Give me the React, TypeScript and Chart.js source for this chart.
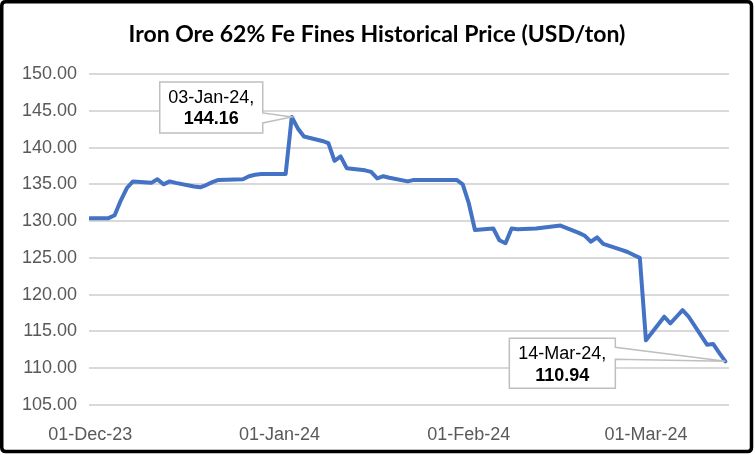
import React, { useEffect, useRef } from 'react';
import { Chart, registerables } from 'chart.js';

Chart.register(...registerables);

const TITLE = 'Iron Ore 62% Fe Fines Historical Price (USD/ton)';

const dates = [
  '2023-12-01', '2023-12-04', '2023-12-05', '2023-12-06', '2023-12-07', '2023-12-08',
  '2023-12-11', '2023-12-12', '2023-12-13', '2023-12-14', '2023-12-15',
  '2023-12-18', '2023-12-19', '2023-12-20', '2023-12-21', '2023-12-22',
  '2023-12-26', '2023-12-27', '2023-12-28', '2023-12-29',
  '2024-01-02', '2024-01-03', '2024-01-04', '2024-01-05',
  '2024-01-08', '2024-01-09', '2024-01-10', '2024-01-11', '2024-01-12',
  '2024-01-15', '2024-01-16', '2024-01-17', '2024-01-18', '2024-01-19',
  '2024-01-22', '2024-01-23', '2024-01-24', '2024-01-25', '2024-01-26',
  '2024-01-29', '2024-01-30', '2024-01-31', '2024-02-01', '2024-02-02',
  '2024-02-05', '2024-02-06', '2024-02-07', '2024-02-08', '2024-02-09',
  '2024-02-12', '2024-02-13', '2024-02-14', '2024-02-15', '2024-02-16',
  '2024-02-19', '2024-02-20', '2024-02-21', '2024-02-22', '2024-02-23',
  '2024-02-26', '2024-02-27', '2024-02-28', '2024-02-29', '2024-03-01',
  '2024-03-04', '2024-03-05', '2024-03-06', '2024-03-07', '2024-03-08',
  '2024-03-11', '2024-03-12', '2024-03-13', '2024-03-14',
];

const prices = [
  130.4, 130.4, 130.8, 132.8, 134.5, 135.4,
  135.2, 135.7, 135.0, 135.4, 135.2,
  134.7, 134.6, 134.9, 135.3, 135.6,
  135.7, 136.1, 136.3, 136.4,
  136.4, 144.16, 142.6, 141.5,
  140.9, 140.6, 138.2, 138.8, 137.2,
  136.9, 136.7, 135.8, 136.1, 135.9,
  135.4, 135.6, 135.6, 135.6, 135.6,
  135.6, 135.6, 135.0, 132.4, 128.8,
  129.0, 127.4, 127.0, 129.0, 128.9,
  129.0, 129.1, 129.2, 129.3, 129.4,
  128.4, 128.0, 127.2, 127.8, 126.9,
  126.1, 125.8, 125.4, 125.0, 113.8,
  117.0, 116.1, 117.0, 117.9, 117.0,
  113.2, 113.3, 112.1, 110.94,
];

const tickDates = ['2023-12-01', '2024-01-01', '2024-02-01', '2024-03-01'];
const tickLabels = ['01-Dec-23', '01-Jan-24', '01-Feb-24', '01-Mar-24'];
const yMin = 105;
const yMax = 150;
const yStep = 5;

const MONTHS = ['Jan', 'Feb', 'Mar', 'Apr', 'May', 'Jun', 'Jul', 'Aug', 'Sep', 'Oct', 'Nov', 'Dec'];
const BASE = Date.UTC(2023, 11, 1);
const dayOf = (s: string) => {
  const [y, m, d] = s.split('-').map(Number);
  return (Date.UTC(y, m - 1, d) - BASE) / 86400000;
};
const fmtDate = (s: string) => {
  const [y, m, d] = s.split('-').map(Number);
  return `${String(d).padStart(2, '0')}-${MONTHS[m - 1]}-${String(y).slice(2)}`;
};

const AXIS_FONT = "'Liberation Sans', Arial, sans-serif";
const TITLE_FONT = "Lato, 'Liberation Sans', sans-serif";

const maxIdx = prices.indexOf(Math.max(...prices));
const lastIdx = prices.length - 1;

// callout boxes, offsets relative to their point
const callouts = [
  { idx: maxIdx, left: -132, right: -29, top: -35, bottom: 16, wA: -4, wB: 6, l1: -18.5, l2: 2 },
  { idx: lastIdx, left: -216, right: -110, top: -23, bottom: 27, wA: -14, wB: -2, l1: -7, l2: 15 },
];

const decorPlugin = {
  id: 'decor',
  beforeDraw(chart: any) {
    const ctx = chart.ctx;
    ctx.save();
    ctx.fillStyle = '#ffffff';
    ctx.fillRect(0, 0, chart.width, chart.height);
    ctx.restore();
  },
  afterDraw(chart: any) {
    const ctx = chart.ctx;
    const xs = chart.scales.x;
    const ys = chart.scales.y;
    ctx.save();
    // title
    ctx.fillStyle = '#000000';
    ctx.font = `bold 23px ${TITLE_FONT}`;
    ctx.textAlign = 'center';
    ctx.textBaseline = 'middle';
    ctx.fillText(TITLE, 377, 35);

    // callouts
    callouts.forEach((c) => {
      const tx = xs.getPixelForValue(dayOf(dates[c.idx]));
      const ty = ys.getPixelForValue(prices[c.idx]);
      const L = tx + c.left, R = tx + c.right, T = ty + c.top, B = ty + c.bottom;
      ctx.beginPath();
      ctx.moveTo(L, T);
      ctx.lineTo(R, T);
      ctx.lineTo(R, ty + c.wA);
      ctx.lineTo(tx, ty);
      ctx.lineTo(R, ty + c.wB);
      ctx.lineTo(R, B);
      ctx.lineTo(L, B);
      ctx.closePath();
      ctx.fillStyle = '#ffffff';
      ctx.fill();
      ctx.strokeStyle = '#bfbfbf';
      ctx.lineWidth = 1.5;
      ctx.stroke();
      const cx = (L + R) / 2;
      ctx.fillStyle = '#000000';
      ctx.textAlign = 'center';
      ctx.textBaseline = 'middle';
      ctx.font = `18px ${AXIS_FONT}`;
      ctx.fillText(fmtDate(dates[c.idx]) + ',', cx, ty + c.l1);
      ctx.font = `bold 18px ${AXIS_FONT}`;
      ctx.fillText(prices[c.idx].toFixed(2), cx, ty + c.l2);
    });

    // outer frame
    ctx.strokeStyle = '#000000';
    ctx.lineWidth = 3.5;
    ctx.beginPath();
    const r = 4;
    const x0 = 1.75, y0 = 1.75, x1 = 751.5, y1 = 451.5;
    ctx.moveTo(x0 + r, y0);
    ctx.lineTo(x1 - r, y0);
    ctx.quadraticCurveTo(x1, y0, x1, y0 + r);
    ctx.lineTo(x1, y1 - r);
    ctx.quadraticCurveTo(x1, y1, x1 - r, y1);
    ctx.lineTo(x0 + r, y1);
    ctx.quadraticCurveTo(x0, y1, x0, y1 - r);
    ctx.lineTo(x0, y0 + r);
    ctx.quadraticCurveTo(x0, y0, x0 + r, y0);
    ctx.stroke();
    ctx.restore();
  },
};

export default function App() {
  const ref = useRef<HTMLCanvasElement | null>(null);
  useEffect(() => {
    if (!ref.current) return;
    const points = dates.map((d, i) => ({ x: dayOf(d), y: prices[i] }));
    const chart = new Chart(ref.current, {
      type: 'line',
      data: {
        datasets: [
          {
            data: points,
            borderColor: '#4472C4',
            backgroundColor: '#4472C4',
            borderWidth: 4,
            pointRadius: 0,
            tension: 0,
            borderJoinStyle: 'round',
            borderCapStyle: 'round',
          },
        ],
      },
      options: {
        animation: false,
        responsive: false,
        devicePixelRatio: 1,
        layout: { padding: { top: 74, left: 0, right: 26, bottom: 0 } },
        plugins: { legend: { display: false }, title: { display: false }, tooltip: { enabled: false } },
        scales: {
          x: {
            type: 'linear',
            min: -0.2,
            max: 104.6,
            afterBuildTicks: (s: any) => {
              s.ticks = tickDates.map((d) => ({ value: dayOf(d) }));
            },
            afterFit: (s: any) => {
              s.height = 50;
            },
            ticks: {
              autoSkip: false,
              maxRotation: 0,
              padding: 11,
              color: '#595959',
              font: { family: AXIS_FONT, size: 18 },
              callback: (v: any) => {
                const i = tickDates.findIndex((d) => dayOf(d) === v);
                return i >= 0 ? tickLabels[i] : '';
              },
            },
            grid: { display: false },
            border: { display: false },
          },
          y: {
            min: yMin,
            max: yMax,
            afterFit: (s: any) => {
              s.width = 89;
            },
            ticks: {
              stepSize: yStep,
              padding: 12,
              color: '#595959',
              font: { family: AXIS_FONT, size: 18 },
              callback: (v: any) => Number(v).toFixed(2),
            },
            grid: { color: '#d9d9d9', lineWidth: 2, drawTicks: false },
            border: { display: false },
          },
        },
      },
      plugins: [decorPlugin],
    });
    return () => chart.destroy();
  }, []);
  return (
    <div style={{ position: 'absolute', left: 0, top: 0, width: 755, height: 455 }}>
      <canvas ref={ref} width={755} height={455} style={{ display: 'block' }} />
    </div>
  );
}
